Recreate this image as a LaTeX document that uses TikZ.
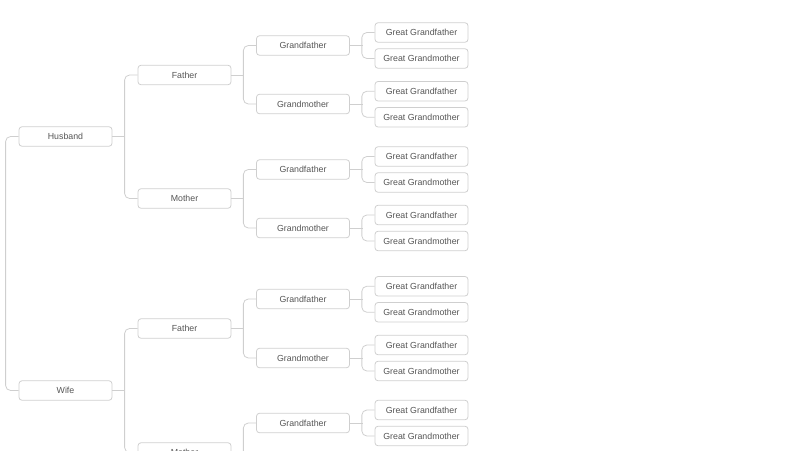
\documentclass[tikz,border=0pt]{standalone}
\usepackage{fontspec}
\setmainfont{Liberation Sans}
\definecolor{boxline}{HTML}{CFCFCF}
\definecolor{boxtext}{HTML}{555555}
\tikzset{
	person/.style={draw=boxline, line width=0.8, rounded corners=3, minimum width=93, minimum height=19.5, inner sep=0, text=boxtext, font=\fontsize{8.8}{10}\selectfont},
	link/.style={draw=boxline, line width=0.8, rounded corners=5},
}
\begin{document}
\begin{tikzpicture}[x=1pt,y=-1pt]
	\useasboundingbox (0,0) rectangle (800,450);
	\clip (0,0) rectangle (800,450);
	\node[person] (husband) at (65.5,136.5) {Husband};
	\node[person] (wife) at (65.5,390.5) {Wife};
	\draw[link] (husband.west) -- ++(-13,0) |- (wife.west);

	% parents
	\foreach \c/\a/\ya/\b/\yb in {husband/hf/75/hm/198.5, wife/wf/328.5/wm/452.5} {
		\node[person] (\a) at (184.5,\ya) {Father};
		\node[person] (\b) at (184.5,\yb) {Mother};
		\draw[link] (\c.east) -- ++(13,0);
		\draw[link] (\a.west) -- ++(-13,0) |- (\b.west);
	}

	% grandparents
	\foreach \c/\a/\ya/\b/\yb in {hf/hfgf/45.5/hfgm/104, hm/hmgf/169.5/hmgm/228, wf/wfgf/299/wfgm/358} {
		\node[person] (\a) at (303,\ya) {Grandfather};
		\node[person] (\b) at (303,\yb) {Grandmother};
		\draw[link] (\c.east) -- ++(12.75,0);
		\draw[link] (\a.west) -- ++(-12.75,0) |- (\b.west);
	}
	\node[person] (wmgf) at (303,423) {Grandfather};
	\coordinate (wmgm) at (256.5,482);
	\draw[link] (wm.east) -- ++(12.75,0);
	\draw[link] (wmgf.west) -- ++(-12.75,0) |- (wmgm);

	% great grandparents
	\foreach \g/\y in {hfgf/45.5, hfgm/104.25, hmgf/169.5, hmgm/228, wfgf/299.25, wfgm/358, wmgf/423} {
		\node[person] (\g a) at (421.5,\y-13) {Great Grandfather};
		\node[person] (\g b) at (421.5,\y+13) {Great Grandmother};
		\draw[link] (\g.east) -- ++(12.75,0);
		\draw[link] (\g a.west) -- ++(-12.75,0) |- (\g b.west);
	}
\end{tikzpicture}
\end{document}
